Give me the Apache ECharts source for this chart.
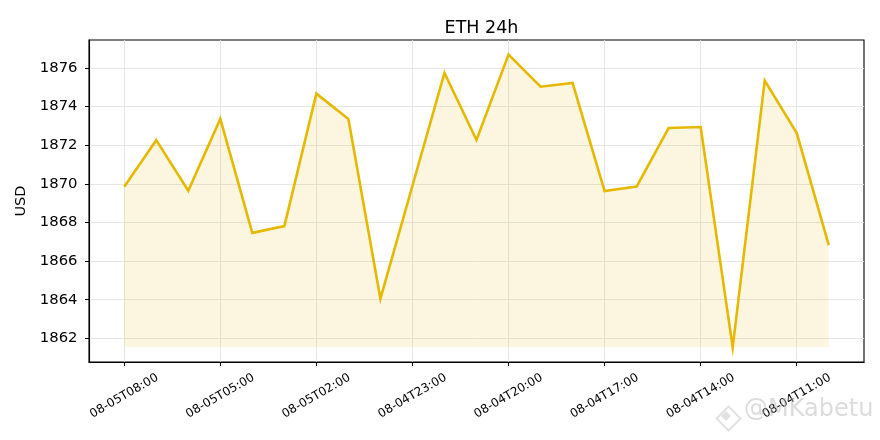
<!DOCTYPE html>
<html><head><meta charset="utf-8">
<script src="https://cdn.jsdelivr.net/npm/echarts@6/dist/echarts.min.js"></script>
<style>html,body{margin:0;padding:0;background:#fff}#c{width:880px;height:440px}</style>
</head><body><div id="c"></div>
<script>
const times = ['08-05T08:00','08-05T07:00','08-05T06:00','08-05T05:00','08-05T04:00','08-05T03:00','08-05T02:00','08-05T01:00','08-05T00:00',
  '08-04T23:00','08-04T22:00','08-04T21:00','08-04T20:00','08-04T19:00','08-04T18:00','08-04T17:00','08-04T16:00','08-04T15:00','08-04T14:00','08-04T13:00','08-04T12:00','08-04T11:00','08-04T10:00'];
const prices = [1869.85,1872.26,1869.64,1873.36,1867.46,1867.81,1874.67,1873.36,1864.05,1869.9,1875.74,1872.27,1876.69,1875.03,1875.22,1869.62,1869.86,1872.89,1872.94,1861.53,1875.35,1872.63,1866.82];
const xTickIdx = [0,3,6,9,12,15,18,21];
const yTicks = [1862,1864,1866,1868,1870,1872,1874,1876];

const pMin = Math.min(...prices), pMax = Math.max(...prices);
const yPad = (pMax - pMin) * 0.05;
const xPad = (times.length - 1) * 0.05;
const font = 'DejaVu Sans';
const chart = echarts.init(document.getElementById('c'), null, {renderer: 'canvas'});
chart.setOption({
  animation: false,
  backgroundColor: '#fff',
  title: {text: 'ETH 24h', left: 476.5, textAlign: 'center', top: 14,
    textStyle: {fontFamily: font, fontSize: 17.5, fontWeight: 'normal', color: '#000'}},
  grid: {left: 89, right: 16, top: 40, bottom: 78, show: true, borderColor: '#000', borderWidth: 1.1, backgroundColor: 'transparent'},
  xAxis: {
    type: 'value', min: -xPad, max: times.length - 1 + xPad,
    axisLine: {show: true, onZero: false, lineStyle: {color: '#000', width: 1.1}},
    axisTick: {show: true, inside: false, length: 4, customValues: xTickIdx, lineStyle: {color: '#000', width: 1}},
    axisLabel: {customValues: xTickIdx, formatter: v => times[Math.round(v)], rotate: 30, align: 'center', verticalAlign: 'middle',
      margin: 34, fontFamily: font, fontSize: 12, color: '#000'},
    splitLine: {show: true, lineStyle: {color: '#e3e3e3', width: 0.9}}
  },
  yAxis: {
    type: 'value', min: pMin - yPad, max: pMax + yPad,
    name: 'USD', nameLocation: 'middle', nameGap: 58, nameRotate: 90,
    nameTextStyle: {fontFamily: font, fontSize: 14.5, color: '#000'},
    axisLine: {show: true, onZero: false, lineStyle: {color: '#000', width: 1.1}},
    axisTick: {show: true, inside: false, length: 4, customValues: yTicks, lineStyle: {color: '#000', width: 1}},
    axisLabel: {customValues: yTicks, formatter: v => String(Math.round(v)), margin: 11.5, fontFamily: font, fontSize: 14.8, color: '#000'},
    splitLine: {show: true, lineStyle: {color: '#e3e3e3', width: 0.9}}
  },
  series: [{
    type: 'line', data: prices.map((v, i) => [i, v]), showSymbol: false, symbol: 'none',
    lineStyle: {color: '#E6B800', width: 2.6, join: 'miter'},
    itemStyle: {color: '#E6B800'},
    areaStyle: {color: '#E6B800', opacity: 0.12, origin: pMin}
  }],
  graphic: [
    {type: 'polygon', left: 714, top: 404, shape: {points: [[12,0],[24,12],[12,24],[0,12]]},
      style: {fill: 'none', stroke: 'rgba(200,200,200,0.55)', lineWidth: 2}, z: 100},
    {type: 'polygon', left: 721, top: 411, shape: {points: [[5,0],[10,5],[5,10],[0,5]]},
      style: {fill: 'rgba(200,200,200,0.55)'}, z: 100},
    {type: 'text', left: 744, top: 398, style: {text: '@MKabetu', fontFamily: font, fontSize: 24, fill: 'rgba(185,185,185,0.5)'}, z: 100}
  ]
});
</script></body></html>
